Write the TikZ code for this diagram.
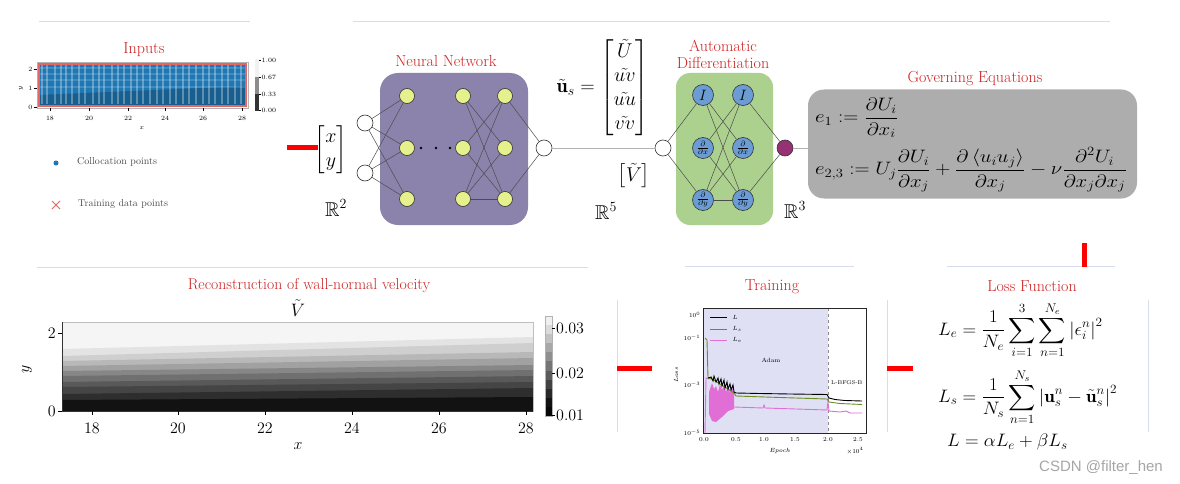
\RequirePackage{fix-cm}
\documentclass[tikz,border=0pt]{standalone}
\usepackage{amsmath,amssymb}
\usepackage{graphicx}
\usepackage{fontspec}
\newfontfamily\csdnfont{Liberation Sans}
\usetikzlibrary{calc}
\definecolor{ttl}{RGB}{205,35,35}
\definecolor{sepc}{RGB}{215,222,235}
\definecolor{nnbox}{RGB}{139,131,172}
\definecolor{neuronc}{RGB}{230,240,140}
\definecolor{adbox}{RGB}{172,208,142}
\definecolor{adnode}{RGB}{108,156,212}
\definecolor{outnode}{RGB}{150,50,115}
\definecolor{gebox}{RGB}{173,173,173}
\definecolor{mplblue}{RGB}{31,119,180}
\definecolor{lavender}{RGB}{224,224,245}
\definecolor{lsgreen}{RGB}{107,142,35}
\definecolor{lepink}{RGB}{225,110,215}
\definecolor{xred}{RGB}{230,100,100}
\tikzset{
  ttl/.style={text=ttl, font=\fontsize{16}{18}\selectfont, inner sep=0pt},
  neuron/.style={circle, draw=black!80, fill=neuronc, minimum size=15pt, inner sep=0pt, line width=0.6pt},
  ionode/.style={circle, draw=black!80, fill=white, minimum size=16pt, inner sep=0pt, line width=0.6pt},
  adn/.style={circle, draw=black!80, fill=adnode, minimum size=21pt, inner sep=0pt, line width=0.6pt, font=\fontsize{11}{12}\selectfont},
  wire/.style={draw=black!70, line width=0.5pt},
  link/.style={draw=black!30, line width=0.6pt},
  sepline/.style={draw=sepc, line width=0.9pt},
  redbar/.style={fill=red, draw=none},
  tiny/.style={font=\fontsize{6}{7}\selectfont, inner sep=0.5pt},
  small/.style={font=\fontsize{6.5}{7}\selectfont, inner sep=0.5pt},
  big/.style={font=\fontsize{20}{24}\selectfont, inner sep=0pt},
  eq/.style={font=\fontsize{18}{22}\selectfont, inner sep=0pt},
  axl/.style={font=\fontsize{16}{18}\selectfont, inner sep=0pt},
}
\begin{document}
\begin{tikzpicture}[x=1pt,y=-1pt]
\useasboundingbox (0,0) rectangle (1180,484);
\fill[white] (0,0) rectangle (1180,484);

% separators
\draw[sepline] (39,21) -- (250,21);
\draw[sepline] (353,21) -- (1110,21);
\draw[sepline] (37,267) -- (588,267);
\draw[sepline] (685,266) -- (854,266);
\draw[sepline] (947,266) -- (1115,266);
\draw[sepline] (617,300) -- (617,432);
\draw[sepline] (887,300) -- (887,432);
\draw[sepline] (1148,300) -- (1148,432);

% red bars
\fill[redbar] (287,145) rectangle (318,150);
\fill[redbar] (1082,243) rectangle (1087,267);
\fill[redbar] (617,366) rectangle (652,371);
\fill[redbar] (887,366) rectangle (913,371);

% ---------------- Inputs
\node[ttl] (tin) at (144,50) {Inputs};
\fill[mplblue] (38,63) rectangle (247,107);
\fill[black,opacity=0.2] (38,95) -- (247,86) -- (247,107) -- (38,107) -- cycle;
\foreach \xx in {42,47,55,61,66,72,79,85,93,99,104,112,118,124,131,137,143,150,157,163,170,176,183,189,196,203,209,215,222,228,235,241}
  \draw[white,opacity=0.3,line width=1.4pt] (\xx,64) -- (\xx,104);
\foreach \yy in {68,74,80,87}
  \draw[white,opacity=0.15,line width=1.2pt] (39,\yy) -- (246,\yy);
\draw[xred,line width=2.2pt] (39,64) rectangle (246,106);
\draw[black!30,line width=0.4pt] (37,62) rectangle (248,108);
\foreach \yv/\lab in {69/2,88/1,107/0}{
  \draw[black,line width=0.5pt] (34,\yv) -- (37,\yv);
  \node[small,anchor=east] at (33,\yv) {$\lab$};}
\foreach \xv/\lab in {50/18,89/20,128/22,165/24,203/26,242/28}{
  \draw[black,line width=0.5pt] (\xv,108) -- (\xv,111);
  \node[small] at (\xv,118) {$\lab$};}
\node[small] (inx) at (142,128) {$x$};
\node[small,rotate=90] (iny) at (21,88) {$y$};
\fill[black!5] (255,59) rectangle (259,77);
\fill[black!45] (255,77) rectangle (259,94);
\fill[black!80] (255,94) rectangle (259,111);
\foreach \yv/\lab in {60/1.00,77/0.67,94/0.33,110/0.00}{
  \draw[black,line width=0.4pt] (259,\yv) -- (261,\yv);
  \node[small,anchor=west] at (261,\yv) {$\lab$};}
\fill[mplblue] (56,163) circle (2.5);
\node[anchor=west,text=black!70,font=\fontsize{10}{12}\selectfont,inner sep=0pt] (lgc) at (77,162) {Collocation points};
\draw[xred,line width=0.9pt] (52,201) -- (60,209) (52,209) -- (60,201);
\node[anchor=west,text=black!70,font=\fontsize{10}{12}\selectfont,inner sep=0pt] (lgt) at (78,204) {Training data points};

% ---------------- Neural network
\node[ttl] (tnn) at (446,61) {Neural Network};
\fill[nnbox,rounded corners=18pt] (380,73) rectangle (528,225);
\node[big] (xy) at (331,150) {$\begin{bmatrix} x\\ y\end{bmatrix}$};
\node[big] (r2) at (336,208) {$\mathbb{R}^2$};
\node[ionode] (in1) at (365,123) {};
\node[ionode] (in2) at (365,173) {};
\node[neuron] (h11) at (407,96) {};
\node[neuron] (h12) at (407,148) {};
\node[neuron] (h13) at (407,199) {};
\node[neuron] (h21) at (463,96) {};
\node[neuron] (h22) at (463,148) {};
\node[neuron] (h23) at (463,199) {};
\node[neuron] (h31) at (505,96) {};
\node[neuron] (h32) at (505,148) {};
\node[neuron] (h33) at (505,199) {};
\node[ionode] (nnout) at (544,148) {};
\foreach \a in {in1,in2}
  \foreach \b in {h11,h12,h13}
    \draw[wire] (\a) -- (\b);
\draw[wire] (h21) -- (h32); \draw[wire] (h21) -- (h33);
\draw[wire] (h22) -- (h31); \draw[wire] (h22) -- (h33);
\draw[wire] (h23) -- (h31); \draw[wire] (h23) -- (h32); \draw[wire] (h23) -- (h33);
\draw[wire] (h31) -- (nnout); \draw[wire] (h33) -- (nnout);
\foreach \xx in {421,436,450} \fill[black] (\xx,148) circle (1.3);

\node[big] (us) at (603,88) {$\tilde{\mathbf{u}}_s = \begin{bmatrix}\tilde{U}\\ \tilde{uv}\\ \tilde{uu}\\ \tilde{vv}\end{bmatrix}$};
\node[big] (vv) at (634,176) {$\begin{bmatrix}\tilde{V}\end{bmatrix}$};
\node[big] (r5) at (606,211) {$\mathbb{R}^5$};

% ---------------- Automatic differentiation
\node[ttl] (tad1) at (723,46) {Automatic};
\node[ttl] (tad2) at (723,63) {Differentiation};
\fill[adbox,rounded corners=14pt] (676,73) rectangle (773,225);
\node[ionode] (adin) at (663,148) {};
\node[adn,font=\fontsize{15}{16}\selectfont] (a11) at (703,95) {$I$};
\node[adn] (a12) at (703,148) {$\frac{\partial}{\partial x}$};
\node[adn] (a13) at (703,200) {$\frac{\partial}{\partial y}$};
\node[adn,font=\fontsize{15}{16}\selectfont] (a21) at (743,95) {$I$};
\node[adn] (a22) at (743,148) {$\frac{\partial}{\partial x}$};
\node[adn] (a23) at (743,200) {$\frac{\partial}{\partial y}$};
\node[circle,draw=black!80,fill=outnode,minimum size=16pt,inner sep=0pt,line width=0.6pt] (adout) at (785,148) {};
\draw[wire] (adin) -- (a11); \draw[wire] (adin) -- (a13);
\draw[wire] (a11) -- (a22); \draw[wire] (a11) -- (a23);
\draw[wire] (a12) -- (a21); \draw[wire] (a12) -- (a23);
\draw[wire] (a13) -- (a21); \draw[wire] (a13) -- (a22); \draw[wire] (a13) -- (a23);
\draw[wire] (a21) -- (adout); \draw[wire] (a23) -- (adout);
\node[big] (r3) at (795,210) {$\mathbb{R}^3$};
\draw[link] (nnout) -- (adin);

% ---------------- Governing equations
\node[ttl] (tge) at (975,79) {Governing Equations};
\node[fill=gebox,rounded corners=16pt,minimum width=329pt,minimum height=109pt,inner sep=0pt] (ge) at (972.5,144) {};
\draw[link] (adout) -- (ge.west |- adout);
\node[eq,anchor=west] (e1) at (815,118) {\scalebox{1.16}[1]{$e_1 := \dfrac{\partial U_i}{\partial x_i}$}};
\node[eq,anchor=west] (e23) at (815,170) {\scalebox{1.16}[1]{$e_{2,3} := U_j\dfrac{\partial U_i}{\partial x_j} + \dfrac{\partial\left\langle u_i u_j\right\rangle}{\partial x_j} - \nu\dfrac{\partial^2 U_i}{\partial x_j\partial x_j}$}};

% ---------------- Reconstruction plot
\node[ttl,font=\fontsize{15.7}{18}\selectfont] (trec) at (309,286) {Reconstruction of wall-normal velocity};
\node[axl,font=\fontsize{18}{20}\selectfont] (vt) at (298,308) {$\tilde{V}$};
\fill[black!4] (62,322) rectangle (533,411);
\foreach \yl/\yr/\g in {349/337/11,356/343/19,361/352/28,366/358/37,371/365/47,376/370/56,382/376/65,387/382/73,394/388/82,400/397/93}
  \fill[black!\g] (62,\yl) -- (533,\yr) -- (533,411) -- (62,411) -- cycle;
\draw[black!25,line width=0.5pt] (62,322) rectangle (533,411);
\draw[black!80,line width=0.6pt] (62,322) -- (62,411) -- (533,411);
\foreach \yv/\lab in {333/2,411/0}{
  \draw[black,line width=0.6pt] (58,\yv) -- (62,\yv);
  \node[axl,anchor=east] at (56,\yv) {$\lab$};}
\foreach \xv/\lab in {92/18,178/20,265/22,352/24,439/26,526/28}{
  \draw[black,line width=0.6pt] (\xv,411) -- (\xv,415);
  \node[axl] at (\xv,428) {$\lab$};}
\node[axl] (rx) at (298,446) {$x$};
\node[axl,rotate=90] (ry) at (27,369) {$y$};
\foreach \i/\g in {0/97,1/93,2/84,3/74,4/64,5/54,6/44,7/34,8/24,9/14,10/6}
  \fill[black!\g] (545,{416-(\i+1)*100/11}) rectangle (552,{416-\i*100/11});
\draw[black!30,line width=0.4pt] (545,316) rectangle (552,416);
\foreach \yv/\lab in {328/0.03,373/0.02,415/0.01}{
  \draw[black,line width=0.6pt] (552,\yv) -- (555,\yv);
  \node[axl,anchor=west] at (556,\yv) {$\lab$};}

% ---------------- Training plot
\node[ttl] (ttr) at (772,287) {Training};
\fill[lavender] (703,308) rectangle (828,433);
\draw[black!45,dashed,line width=0.7pt] (828,308) -- (828,433);
% pink
\fill[lepink] (709,392) -- (712,383) -- (714,389) -- (716,386) -- (718,392) -- (720,384) -- (722,390) -- (724,385) -- (726,392) -- (728,386) -- (730,393) -- (732,387) -- (734,393) -- (734,409) -- (728,411) -- (722,417) -- (716,422) -- (712,421) -- (709,414) -- cycle;
\draw[lepink,line width=0.9pt] (705,433) -- (706,378) -- (709,379);
\draw[lepink,line width=0.9pt] (734,407) -- (763,408) -- (764,405) -- (765,408) -- (827,410) -- (828,402) -- (829,411) -- (840,412) -- (846,411) -- (850,413) -- (862,413);
% green
\draw[lsgreen,line width=0.9pt] (705,338) -- (707,340) -- (708,378) -- (712,379) -- (720,384) -- (728,389) -- (734,393) -- (736,396) -- (780,397.5) -- (827,399) -- (829,402) -- (840,403.5) -- (862,404.5);
% black
\draw[black,line width=0.9pt] (708,378) -- (711,377) -- (713,381) -- (714,376) -- (716,382) -- (718,378) -- (719,384) -- (721,379) -- (722,386) -- (724,380) -- (725,388) -- (727,382) -- (728,389) -- (730,384) -- (731,390) -- (733,385) -- (734,392) -- (736,393) -- (760,393.5) -- (790,394) -- (827,394.5) -- (829,398) -- (835,399.5) -- (845,400.5) -- (862,401);
\draw[black!85,line width=0.9pt] (703,308) rectangle (866,433);
\foreach \yv/\lab in {315/0,338/-1,385/-3,433/-5}
  \node[tiny,anchor=east] at (701,\yv) {$10^{\lab}$};
\foreach \xv/\lab in {704/0.0,736/0.5,764/1.0,795/1.5,828/2.0,858/2.5}
  \node[tiny] at (\xv,440) {$\lab$};
\node[tiny] (ep) at (780,451) {$Epoch$};
\node[tiny] (e4) at (855,451) {$\times10^4$};
\node[tiny,rotate=90] (lo) at (676,375) {$Loss$};
\draw[black,line width=0.8pt] (710,317) -- (727,317);
\draw[lsgreen,line width=0.8pt] (710,329) -- (727,329);
\draw[lepink,line width=0.8pt] (710,340) -- (727,340);
\node[tiny,anchor=west] at (732,317) {$L$};
\node[tiny,anchor=west] at (732,329) {$L_s$};
\node[tiny,anchor=west] at (732,340) {$L_e$};
\node[tiny] (adam) at (771,360) {Adam};
\node[tiny,font=\fontsize{5.5}{6}\selectfont,anchor=east] (lb) at (863,383) {L-BFGS-B};

% ---------------- Loss function
\node[ttl] (tlf) at (1032,286) {Loss Function};
\node[eq,anchor=west] (le) at (938,330) {\scalebox{1.05}[1]{$L_e = \dfrac{1}{N_e}\displaystyle\sum_{i=1}^{3}\sum_{n=1}^{N_e}\left|\epsilon_i^n\right|^2$}};
\node[eq,anchor=west] (ls) at (938,397) {\scalebox{1.05}[1]{$L_s = \dfrac{1}{N_s}\displaystyle\sum_{n=1}^{N_s}\left|\mathbf{u}_s^n - \tilde{\mathbf{u}}_s^n\right|^2$}};
\node[eq,anchor=west] (ll) at (947,442) {\scalebox{1.05}[1]{$L = \alpha L_e + \beta L_s$}};

\node[anchor=west,text=black!35,font=\csdnfont\fontsize{15}{17}\selectfont,inner sep=0pt] (wm) at (1039,468) {CSDN @filter\_hen};
\end{tikzpicture}
\end{document}
